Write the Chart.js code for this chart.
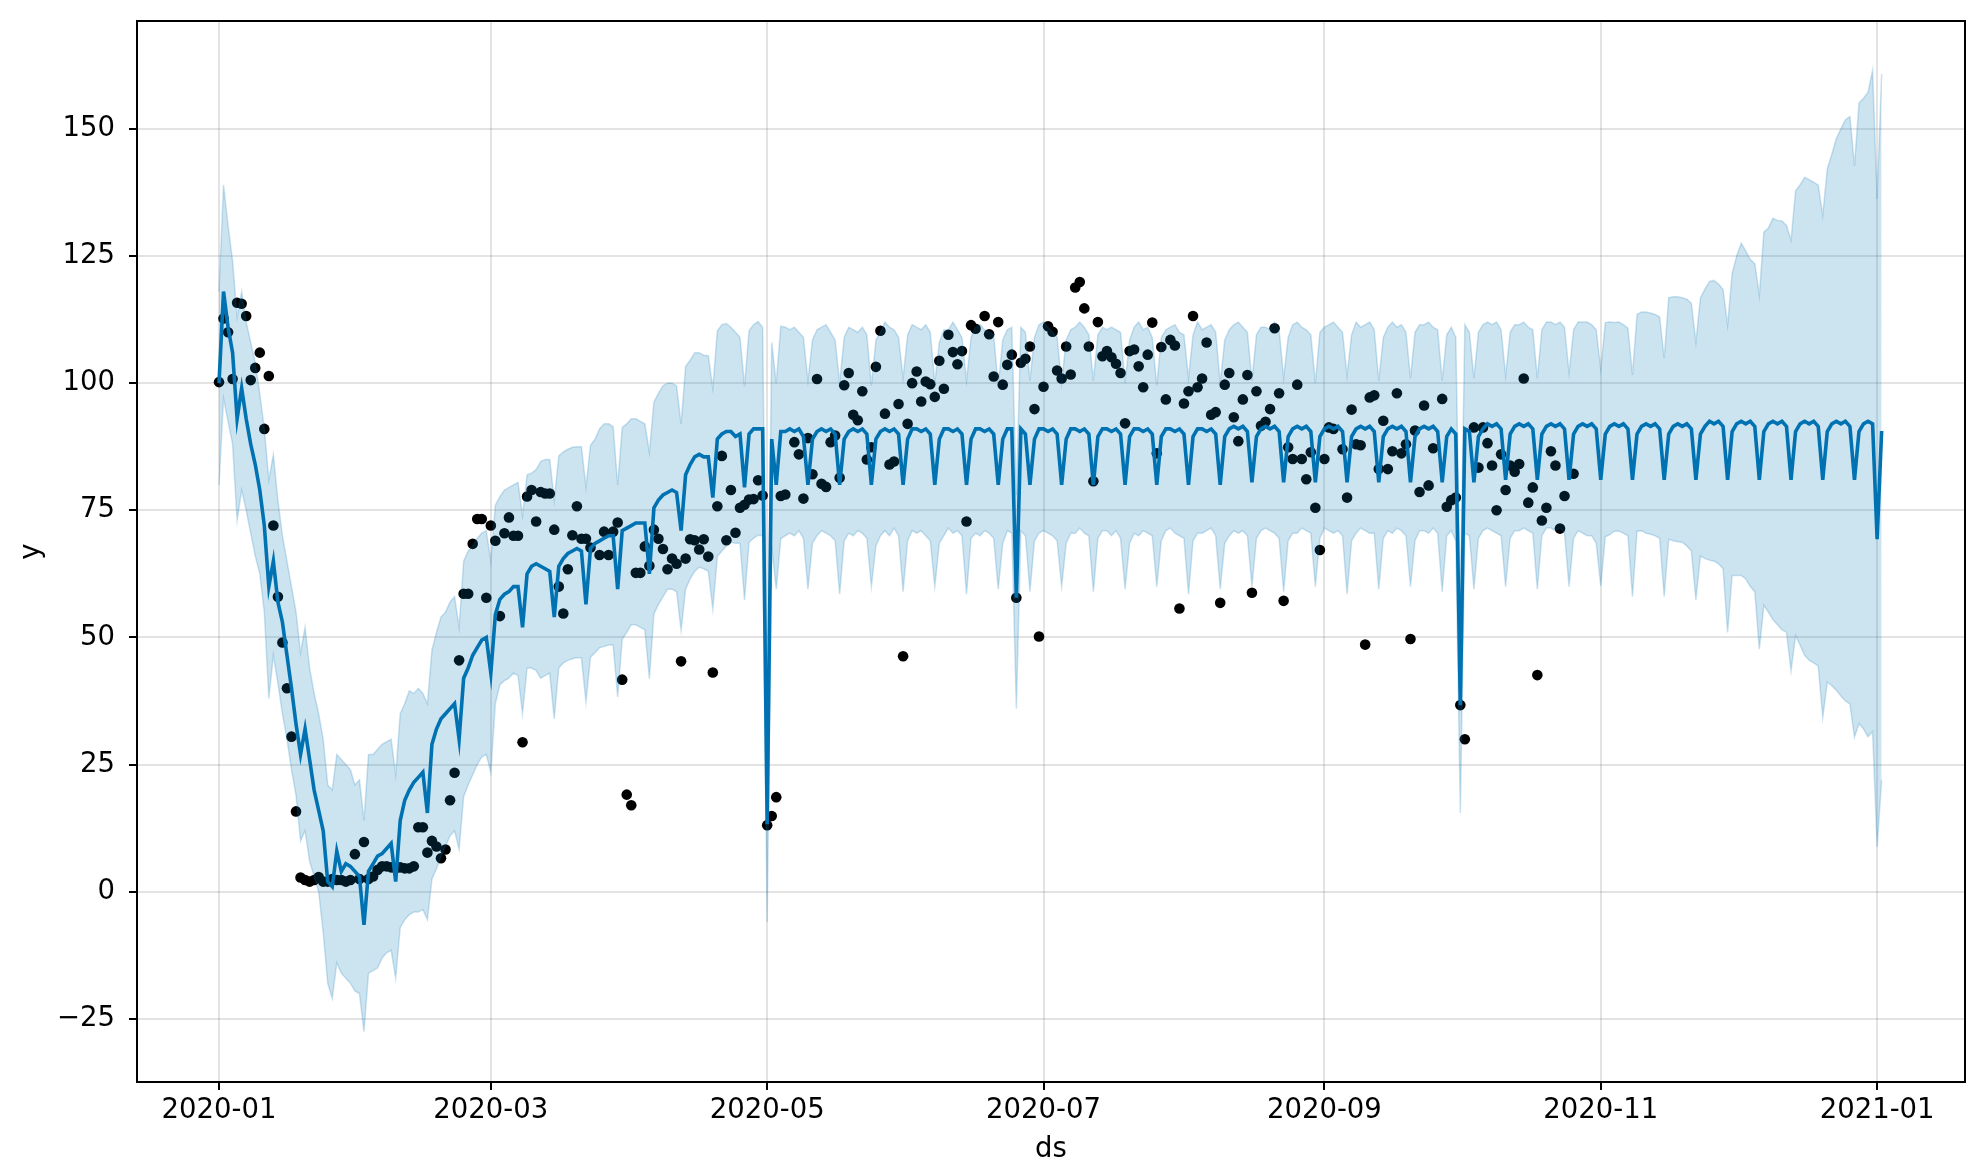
<!DOCTYPE html>
<html>
<head>
<meta charset="utf-8">
<title>Forecast</title>
<script src="https://cdn.jsdelivr.net/npm/chart.js@4/dist/chart.umd.min.js"></script>
<style>
  html, body { margin: 0; padding: 0; background: #fff; }
  canvas { display: block; }
</style>
</head>
<body>
<canvas id="myChart" width="1984" height="1172"></canvas>
<script>
// x axis ticks (day number counted from 2020-01-01)
const tickDays = [0, 60, 121, 182, 244, 305, 366];
const tickLabels = ["2020-01", "2020-03", "2020-05", "2020-07", "2020-09", "2020-11", "2021-01"];
const yTicks = [-25, 0, 25, 50, 75, 100, 125, 150];

// observed values, one per day from 2020-01-01 (null = no observation)
const observed = [
  100.2, 112.7, 110, 100.8, 115.8, 115.6, 113.2, 100.6, 103, 106,
  91, 101.4, 72, 58, 49, 40, 30.5, 15.8, 2.8, 2.3,
  2, 2.3, 2.9, 2, 2, 2.5, 2.3, 2.3, 2, 2.3,
  7.4, 2.5, 9.8, 2.5, 3, 4.3, 5, 5, 4.8, 4.6,
  4.8, 4.6, 4.6, 5, 12.7, 12.7, 7.7, 10, 8.9, 6.6,
  8.3, 18, 23.4, 45.5, 58.6, 58.6, 68.4, 73.3, 73.3, 57.8,
  72, 69, 54.2, 70.5, 73.6, 70, 70, 29.4, 77.7, 79,
  72.8, 78.6, 78.3, 78.3, 71.2, 60, 54.7, 63.4, 70.1, 75.8,
  69.4, 69.4, 67.7, null, 66.2, 70.8, 66.2, 70.8, 72.6, 41.7,
  19.1, 17, 62.7, 62.7, 67.9, 64.1, 71.2, 69.4, 67.4, 63.4,
  65.5, 64.5, 45.3, 65.5, 69.3, 69.1, 67.3, 69.3, 65.9, 43.1,
  75.8, 85.7, 69.1, 79, 70.6, 75.5, 76.1, 77.1, 77.2, 80.9,
  77.9, 13.1, 14.9, 18.6, 77.8, 78.1, null, 88.4, 86, 77.3,
  89.2, 82.1, 100.8, 80.2, 79.6, 88.4, 89.7, 81.4, 99.6, 102,
  93.8, 92.7, 98.4, 85, 87.4, 103.2, 110.3, 94, 84, 84.6,
  95.9, 46.3, 92, 100, 102.3, 96.4, 100.3, 99.8, 97.3, 104.4,
  98.9, 109.5, 106.1, 103.7, 106.3, 72.8, 111.4, 110.7, null, 113.2,
  109.6, 101.3, 112, 99.7, 103.6, 105.6, 57.8, 104, 104.8, 107.2,
  94.9, 50.2, 99.3, 111.2, 110.1, 102.5, 100.9, 107.2, 101.7, 118.8,
  119.9, 114.7, 107.2, 80.7, 112, 105.3, 106.3, 105.1, 103.8, 102,
  92.1, 106.3, 106.6, 103.3, 99.2, 105.6, 111.9, 86.2, 107.1, 96.8,
  108.5, 107.4, 55.7, 96, 98.4, 113.2, 99.2, 100.9, 108, 93.8,
  94.3, 56.8, 99.7, 102, 93.3, 88.6, 96.8, 101.6, 58.8, 98.4,
  91.6, 92.4, 94.9, 110.8, 98, 57.2, 87.4, 85.1, 99.7, 85.1,
  81.1, 86.4, 75.5, 67.2, 85.1, 91.3, 91, null, 87, 77.5,
  94.8, 88, 87.8, 48.6, 97.2, 97.6, 83.1, 92.6, 83.1, 86.6,
  98, 86.2, 88, 49.7, 90.7, 78.6, 95.6, 79.9, 87.2, null,
  96.9, 75.7, 77, 77.5, 36.7, 30, null, 91.3, 83.4, 91.3,
  88.2, 83.8, 75, 86, 79, 83.8, 82.6, 84.1, 100.9, 76.5,
  79.5, 42.6, 73, 75.5, 86.6, 83.8, 71.4, 77.8, null, 82.2
];

// forecast, one row per week (Wed..Tue), from 2020-01-01 to 2021-01-02
const yhat = [
  100, 118, 111, 106, 93, 99, 93,
  88, 84, 79, 72, 60, 65, 57,
  53, 46.5, 40, 33, 27, 32, 26,
  20, 16, 12, 2, 1, 8, 4,
  5.5, 5, 4, 3, -6.5, 4, 5.5,
  7, 7.5, 8.5, 9.5, 2, 14, 18,
  20, 21.5, 22.5, 23.5, 15.5, 29, 32,
  34, 35, 36, 37, 30, 42, 44,
  46.5, 48, 49.5, 50, 43, 54.5, 57.5,
  58.5, 59, 60, 60, 52, 62.5, 64,
  64.5, 64, 63.5, 63, 54, 64, 65.5,
  66.5, 67, 67.5, 67, 56.5, 67.5, 68.5,
  69, 69.5, 70, 70, 59.5, 71, 71.5,
  72, 72.5, 72.5, 72.5, 62.5, 75.5, 77,
  78, 78.5, 79, 78.5, 71, 82, 84,
  85.5, 86, 85.5, 85.5, 77.5, 89, 90,
  90.5, 90.5, 89.5, 90, 79.5, 90, 91,
  91, 91, 13.3, 89, 80, 90.5, 90.5,
  91, 90.5, 91, 89.5, 80, 89, 90.5,
  91, 90.5, 91, 90, 80, 89, 90.5,
  91, 90.5, 91, 90, 80, 89, 90.5,
  91, 90.5, 91, 90, 80, 89, 91,
  91, 90.5, 91, 90, 80, 89, 91,
  91, 90.5, 91, 90, 80, 89, 91,
  91, 90.5, 91, 90, 80, 89, 91,
  91, 57.8, 91, 90, 80, 89, 91,
  91, 90.5, 91, 90, 80, 89, 91,
  91, 90.5, 91, 90, 80, 89.5, 91,
  91, 90.5, 91, 90, 80, 89.5, 91,
  91, 90.5, 91, 90, 80, 89.5, 91,
  91, 90.5, 91, 90, 80, 89.5, 91,
  91, 90.5, 91, 90, 80, 89.5, 91,
  91.5, 91, 91.5, 90.5, 80.5, 89.5, 91,
  91.5, 91, 91.5, 90.5, 80.5, 89.5, 91,
  91.5, 91, 91.5, 90.5, 80.5, 89.5, 91,
  91.5, 91, 91.5, 90.5, 80.5, 89.5, 91,
  91.5, 91, 91.5, 90.5, 80.5, 89.5, 91,
  91.5, 91, 91.5, 90.5, 80.5, 89.5, 91,
  91.5, 91, 91.5, 90.5, 80.5, 89.5, 91,
  90, 36.7, 91, 90.5, 80.5, 89.5, 91,
  92, 91.5, 92, 91, 81, 90, 91.5,
  92, 91.5, 92, 91, 81, 90, 91.5,
  92, 91.5, 92, 91, 81, 90, 91.5,
  92, 91.5, 92, 91, 81, 90, 91.5,
  92, 91.5, 92, 91, 81, 90, 91.5,
  92, 91.5, 92, 91, 81, 90, 91.5,
  92, 91.5, 92, 91, 81, 90, 91.5,
  92.5, 92, 92.5, 91.5, 81, 90.5, 92,
  92.5, 92, 92.5, 91.5, 81, 90.5, 92,
  92.5, 92, 92.5, 91.5, 81, 90.5, 92,
  92.5, 92, 92.5, 91.5, 81, 90.5, 92,
  92.5, 92, 92.5, 91.5, 81, 90.5, 92,
  92.5, 92, 69.3, 90.6
];

const yhatUpper = [
  118, 139, 131, 124, 113, 118, 112,
  108, 104, 98, 91, 81, 86, 77,
  70, 65, 60, 55, 47, 52, 44,
  39, 35, 30, 21, 20, 27, 26,
  25, 24, 21, 22, 14, 27, 27,
  28, 29, 29.5, 30, 23, 35, 37,
  39.5, 39, 40, 39, 37, 47.5, 51,
  54, 55, 57, 58, 52, 65, 67,
  68, 69.5, 70.5, 71, 65, 76, 77.7,
  79, 79.5, 80, 80.5, 74, 82, 82.3,
  83, 84.6, 85, 85, 77, 85.7, 86.5,
  87, 87.4, 87.5, 87.5, 79.6, 87.8, 89,
  91, 92, 92, 91.5, 80, 91.3, 92,
  93, 93, 92.5, 92, 86.4, 96.3, 98,
  99.5, 100, 100, 99.5, 92, 103.3, 104.5,
  106, 106, 105.5, 105.4, 99, 110.3, 111.5,
  111.7, 111, 110, 109, 99.4, 110.3, 111.5,
  112.1, 111, 33, 108, 100, 111.2, 111,
  110.5, 111, 110, 109, 100.5, 108.5, 110.5,
  111, 111.5, 110, 108.5, 100, 109, 111,
  110.5, 110, 111, 109.5, 99.5, 108.5, 110,
  112, 111, 110.5, 109, 101, 109.5, 111.5,
  111, 110.5, 111.5, 110, 100, 108, 110.5,
  110.5, 112, 110.5, 109, 100.5, 109, 111,
  111.5, 110.5, 110, 109.5, 99.5, 108.5, 110.5,
  111, 78, 111, 110, 100.5, 109, 111.5,
  112, 111, 110, 109, 100, 108.5, 110.5,
  111, 112, 111, 109.5, 100.5, 109.5, 111,
  110.5, 111, 110.5, 110, 100, 108.5, 111,
  112, 110.5, 111, 109, 99.5, 109, 110.5,
  111, 111.5, 110, 109.5, 101, 109.5, 112,
  110.5, 111, 111.5, 110, 100, 108.5, 110.5,
  111.5, 112, 111, 110, 100.5, 109.5, 111,
  111, 110.5, 112, 110.5, 101, 109, 111.5,
  112, 111, 110.5, 109.5, 100, 110, 111,
  111.5, 112, 111, 110, 101.5, 109.5, 112,
  111, 111.5, 112, 110.5, 100.5, 109, 111,
  112, 111, 111.5, 110, 101, 110, 111.5,
  111.5, 112, 111, 110.5, 100.5, 109.5, 111,
  109, 57, 111.5, 110, 101, 110, 111.5,
  112, 111.5, 112, 110.5, 101.5, 110, 111.5,
  111.5, 112, 111, 110.5, 101, 110.5, 112,
  112, 111.5, 112, 111, 102, 110.5, 112,
  112, 112, 111.5, 110.5, 102.7, 111.9, 112,
  111.9, 112, 111.5, 110.8, 101.6, 113.5, 114,
  114, 113.8, 113.5, 113, 104.9, 116.8, 117,
  117, 116.8, 116.5, 115.7, 108.1, 116.8, 118.5,
  120, 120.2, 119.5, 118.4, 111.4, 121.6, 125,
  127.5, 126, 124.3, 123.5, 117.3, 129.7, 130.5,
  132.4, 132, 131.9, 131, 128.1, 137.8, 139,
  140.5, 140, 139.5, 138.9, 133, 142.1, 145,
  148.1, 150, 151.8, 152.4, 142.7, 155.1, 156,
  157.2, 161.5, 136.2, 160.8
];

const yhatLower = [
  80, 97, 92.5, 88, 73, 79, 75,
  70.5, 66, 62.5, 55, 38, 46.5, 41,
  35, 30, 24, 19, 10, 12, 6,
  3, 0, -8, -18, -21, -14, -16,
  -17, -18, -19.5, -20, -27.5, -16, -15.5,
  -15, -13, -12, -11.5, -17, -7, -5.5,
  -4.5, -4, -4, -3.5, -5.5, 2.5, 4.5,
  7, 9, 11, 12, 8.3, 18.7, 21,
  23, 25, 26.5, 27, 23.4, 37, 40.7,
  41.5, 42, 43, 42.5, 35, 44, 44,
  43.5, 42, 42.5, 43, 34, 44, 45,
  45.5, 45.8, 46, 46, 37.3, 46.1, 47,
  48, 48.2, 48.5, 48.5, 38.3, 49.6, 51,
  52.5, 52.5, 52, 51.5, 41.9, 54.6, 56.5,
  58, 59.5, 59.5, 59, 51.4, 59.5, 61.5,
  63, 63.8, 63.5, 63, 55.6, 65.9, 67,
  68, 68.7, 68.5, 68.5, 57.4, 68.7, 69.5,
  70.1, 70, -6, 68, 59.5, 69.4, 70,
  70.5, 70, 71, 69.5, 59.5, 68.5, 70,
  71, 70.5, 70, 69, 58.5, 69, 70.5,
  70, 71, 70.5, 69.5, 60, 68, 70,
  71, 70, 71.5, 70, 59, 69, 71,
  70.5, 71, 70, 69, 60, 68.5, 70,
  71.5, 70.5, 71, 70, 58.5, 69.5, 70.5,
  70, 71, 70.5, 69.5, 59.5, 68.5, 71,
  70.5, 36, 71, 70, 59, 69, 70.5,
  71, 70.5, 70, 69, 60, 68.5, 70.5,
  70.5, 71.5, 70.5, 70, 59, 69.5, 71,
  71, 70, 71, 69.5, 59.5, 68.5, 70.5,
  70, 71, 70.5, 70, 60, 69, 71,
  71.5, 70.5, 70, 69.5, 58.5, 69, 70.5,
  70.5, 71, 71.5, 70, 59.5, 68.5, 70,
  71, 70.5, 71, 70, 60, 69.5, 71,
  71.5, 71, 70.5, 69.5, 59, 69, 70.5,
  70.5, 71.5, 71, 70.5, 60, 69.5, 71.5,
  71, 70.5, 71, 70, 58.5, 69, 70.5,
  71.5, 71, 70.5, 70.5, 59.5, 69.5, 71,
  70.5, 71.5, 71, 70, 60, 69, 71,
  71, 70.5, 71.5, 70.5, 59, 70, 71,
  69, 15.5, 70.5, 70, 59.5, 69.5, 71,
  71.5, 71, 70.5, 70, 60, 69.5, 71,
  71, 71.5, 71, 70.5, 59.5, 70, 71.5,
  71.5, 71, 71.5, 70.5, 60, 69.5, 71,
  70.5, 70, 70, 68.5, 60.1, 69.8, 70.2,
  70.9, 70.9, 70.5, 70, 58, 70.9, 71,
  70.5, 70.3, 70, 69.5, 58, 69.3, 69,
  68.8, 68.7, 68, 67, 57.4, 66, 65.5,
  65.2, 65, 64.5, 63.5, 51, 62.2, 62.2,
  62.2, 61.5, 60, 59, 47.7, 56.3, 55,
  53.5, 52.5, 51.5, 51, 43.4, 50.4, 48.5,
  46.5, 45.5, 45, 44.4, 34.2, 41.2, 40.5,
  39.6, 38.5, 37.5, 36.9, 30.4, 33.1, 32,
  30.5, 31.5, 8.8, 22
];

const toPoints = (arr) =>
  arr.map((v, i) => (v === null ? null : { x: i, y: v })).filter((p) => p !== null);

const fontFamily = "'DejaVu Sans', sans-serif";
const tickFont = { family: fontFamily, size: 27.5 };
const bandColor = "rgba(0, 114, 178, 0.2)";

// draw the black box around the plot area (matplotlib spines)
const framePlugin = {
  id: "frame",
  afterDraw(chart) {
    const { ctx, chartArea } = chart;
    ctx.save();
    ctx.strokeStyle = "#000";
    ctx.lineWidth = 2;
    ctx.strokeRect(chartArea.left, chartArea.top,
      chartArea.right - chartArea.left, chartArea.bottom - chartArea.top);
    ctx.restore();
  },
};

const ctx = document.getElementById("myChart").getContext("2d");

new Chart(ctx, {
  type: "line",
  data: {
    datasets: [
      {
        label: "y",
        data: toPoints(observed),
        showLine: false,
        pointRadius: 5.3,
        pointHoverRadius: 5.3,
        pointBackgroundColor: "#000",
        pointBorderWidth: 0,
        order: 3,
      },
      {
        label: "yhat",
        data: toPoints(yhat),
        borderColor: "#0072B2",
        borderWidth: 3.6,
        pointRadius: 0,
        tension: 0,
        fill: false,
        order: 2,
      },
      {
        label: "yhat_upper",
        data: toPoints(yhatUpper),
        borderColor: bandColor,
        borderWidth: 1.5,
        backgroundColor: bandColor,
        pointRadius: 0,
        tension: 0,
        fill: "+1",
        order: 1,
      },
      {
        label: "yhat_lower",
        data: toPoints(yhatLower),
        borderColor: bandColor,
        borderWidth: 1.5,
        pointRadius: 0,
        tension: 0,
        fill: false,
        order: 1,
      },
    ],
  },
  options: {
    responsive: false,
    animation: false,
    devicePixelRatio: 1,
    layout: { padding: { left: 0, top: 21, right: 19, bottom: 0 } },
    plugins: {
      legend: { display: false },
      tooltip: { enabled: false },
    },
    scales: {
      x: {
        type: "linear",
        min: -18.1,
        max: 385.4,
        afterBuildTicks: (scale) => {
          scale.ticks = tickDays.map((v) => ({ value: v }));
        },
        afterFit: (scale) => {
          scale.height = 90;
          scale.paddingLeft = 0;
          scale.paddingRight = 0;
        },
        ticks: {
          autoSkip: false,
          maxRotation: 0,
          padding: 4,
          color: "#000",
          font: tickFont,
          callback: (value) => tickLabels[tickDays.indexOf(value)],
        },
        grid: {
          color: "rgba(128, 128, 128, 0.22)",
          lineWidth: 2,
          tickColor: "#000",
          tickLength: 8,
          tickWidth: 2,
        },
        border: { display: false },
        title: {
          display: true,
          text: "ds",
          color: "#000",
          font: tickFont,
          padding: { top: 0, bottom: 6 },
        },
      },
      y: {
        min: -37.4,
        max: 171.2,
        afterBuildTicks: (scale) => {
          scale.ticks = yTicks.map((v) => ({ value: v }));
        },
        afterFit: (scale) => {
          scale.width = 137;
          scale.paddingTop = 0;
          scale.paddingBottom = 0;
        },
        ticks: {
          padding: 14,
          color: "#000",
          font: tickFont,
          callback: (value) => String(value).replace("-", "\u2212"),
        },
        grid: {
          color: "rgba(128, 128, 128, 0.22)",
          lineWidth: 2,
          tickColor: "#000",
          tickLength: 8,
          tickWidth: 2,
        },
        border: { display: false },
        title: {
          display: true,
          text: "y",
          color: "#000",
          font: tickFont,
          padding: { top: 15, bottom: 0 },
        },
      },
    },
  },
  plugins: [framePlugin],
});
</script>
</body>
</html>
